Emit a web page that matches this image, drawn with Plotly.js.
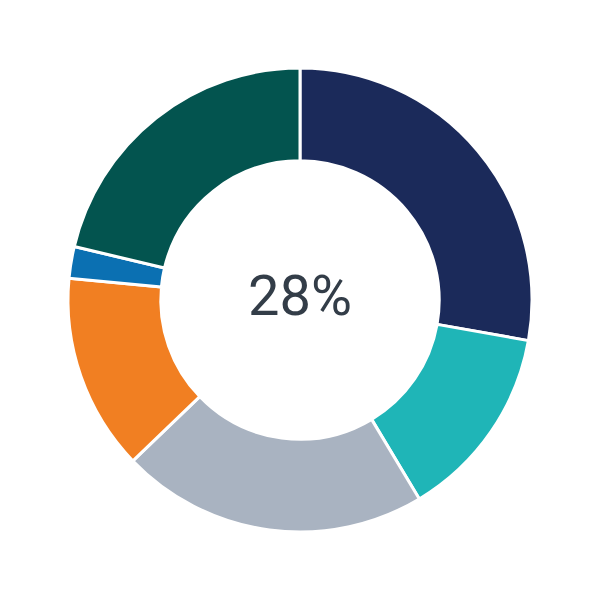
<!DOCTYPE html>
<html><head><meta charset="utf-8">
<script src="https://cdn.plot.ly/plotly-3.0.1.min.js"></script>
<style>html,body{margin:0;padding:0;background:#fff}#c{width:600px;height:600px}</style>
</head><body><div id="c"></div>
<script>
const labels = ["A", "B", "C", "D", "E", "F"];
const values = [27.8, 13.6, 21.4, 13.7, 2.2, 21.3];
const colors = ["#1b2a5a", "#1fb5b7", "#a9b3c1", "#f17f22", "#0b70b2", "#03544f"];
const centerText = "28%";

Plotly.newPlot("c", [{
  type: "pie",
  labels: labels,
  values: values,
  hole: 0.6,
  sort: false,
  direction: "clockwise",
  rotation: 0,
  textinfo: "none",
  hoverinfo: "none",
  marker: {colors: colors, line: {color: "#ffffff", width: 3}}
}], {
  width: 600, height: 600,
  showlegend: false,
  margin: {l: 68, r: 68, t: 68, b: 68},
  paper_bgcolor: "#ffffff",
  annotations: [{
    text: centerText, x: 0.5, y: 0.5, xref: "paper", yref: "paper",
    showarrow: false, yshift: 4,
    font: {family: "Roboto", size: 56, weight: 400, color: "#333d48"}
  }]
}, {displayModeBar: false, staticPlot: true});
</script></body></html>
